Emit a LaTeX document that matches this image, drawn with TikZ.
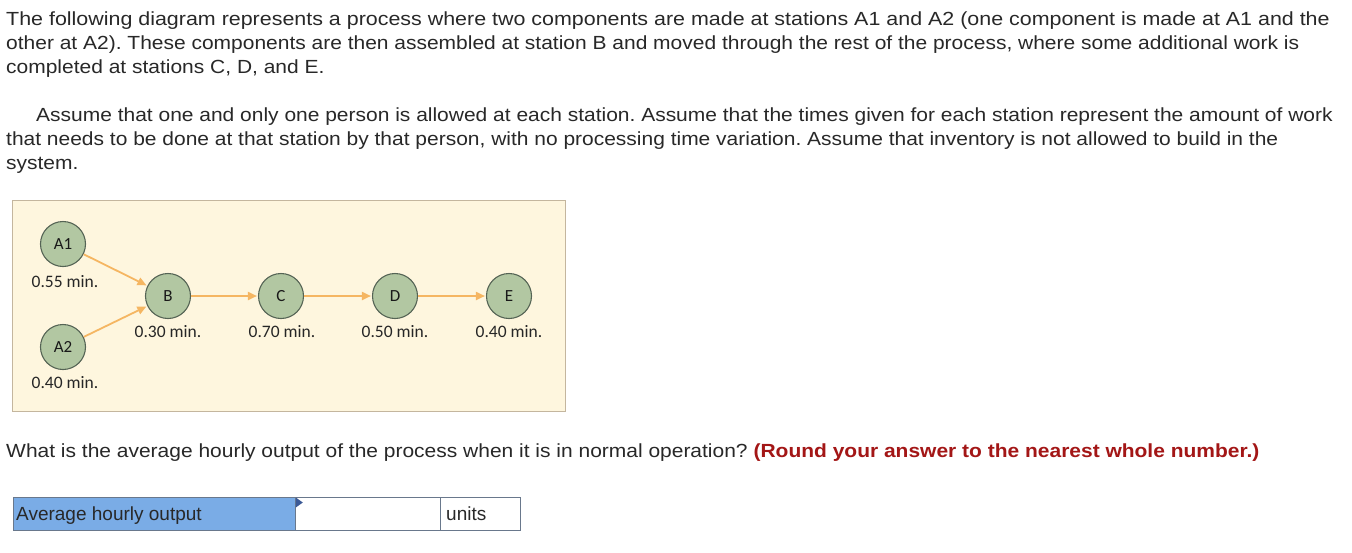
\documentclass[tikz,border=0pt]{standalone}
\usepackage{fontspec}
\setmainfont{Liberation Sans}
\newfontfamily\bodyfont{Liberation Sans}[FakeStretch=1.104]
\newfontfamily\widefont{Liberation Sans}[FakeStretch=1.128]
\newfontfamily\diagfont{Carlito}
\usetikzlibrary{arrows.meta}
\definecolor{txt}{RGB}{40,40,40}
\definecolor{boxfill}{RGB}{254,246,222}
\definecolor{boxdraw}{RGB}{196,182,158}
\definecolor{stfill}{RGB}{178,199,162}
\definecolor{stdraw}{RGB}{85,100,85}
\definecolor{flow}{RGB}{245,182,98}
\definecolor{cellblue}{RGB}{122,172,230}
\definecolor{celldraw}{RGB}{105,120,140}
\definecolor{redq}{RGB}{163,22,22}
\definecolor{tri}{RGB}{60,90,150}
\tikzset{
  para/.style={anchor=base west, inner sep=0pt, text=txt, font=\bodyfont\fontsize{19}{23}\selectfont\frenchspacing},
  cellt/.style={anchor=base west, inner sep=0pt, text=txt, font=\fontsize{19}{23}\selectfont},
  station/.style={circle, draw=stdraw, line width=1.1pt, fill=stfill, minimum size=45pt, inner sep=0pt, font=\diagfont\fontsize{17}{18}\selectfont, text=black!90},
  tlabel/.style={inner sep=0pt, anchor=base, font=\diagfont\fontsize{17.5}{19}\selectfont, text=black!85},
  flowarrow/.style={draw=flow, line width=1.8pt, -{Triangle[length=9pt,width=8pt]}, shorten >=1pt},
  cell/.style={draw=celldraw, line width=0.8pt, anchor=north west, inner sep=0pt}
}
\begin{document}
\begin{tikzpicture}[x=1pt,y=-1pt]
\useasboundingbox[fill=white] (0,0) rectangle (1352,552);
% paragraph texts
\node[para, font=\widefont\fontsize{19}{23}\selectfont\frenchspacing] (l1) at (6,25) {The following diagram represents a process where two components are made at stations A1 and A2 (one component is made at A1 and the};
\node[para] (l2) at (6,49) {other at A2). These components are then assembled at station B and moved through the rest of the process, where some additional work is};
\node[para] (l3) at (6,73) {completed at stations C, D, and E.};
\node[para] (p1) at (36,121) {Assume that one and only one person is allowed at each station. Assume that the times given for each station represent the amount of work};
\node[para] (p2) at (6,145) {that needs to be done at that station by that person, with no processing time variation. Assume that inventory is not allowed to build in the};
\node[para] (p3) at (6,169) {system.};
% diagram frame
\node[draw=boxdraw, fill=boxfill, line width=1.2pt, minimum width=553pt, minimum height=211pt, anchor=north west, inner sep=0pt] (frame) at (11.5,199.5) {};
% stations
\node[station] (A1) at (63,244) {A1};
\node[station] (A2) at (63,347) {A2};
\node[station] (B) at (168,296) {B};
\node[station] (C) at (281,296) {C};
\node[station] (D) at (395,296) {D};
\node[station] (E) at (509,296) {E};
% time labels
\node[tlabel] (tA1) at (65,287) {0.55 min.};
\node[tlabel] (tA2) at (65,388) {0.40 min.};
\node[tlabel] (tB) at (168,337) {0.30 min.};
\node[tlabel] (tC) at (282,337) {0.70 min.};
\node[tlabel] (tD) at (395,337) {0.50 min.};
\node[tlabel] (tE) at (509,337) {0.40 min.};
% flows
\draw[flowarrow] (A1) -- (B);
\draw[flowarrow] (A2) -- (B);
\draw[flowarrow] (B) -- (C);
\draw[flowarrow] (C) -- (D);
\draw[flowarrow] (D) -- (E);
% question
\node[para] (q) at (6,457) {What is the average hourly output of the process when it is in normal operation? \textcolor{redq}{\bfseries(Round your answer to the nearest whole number.)}};
% answer row
\node[cell, fill=cellblue, minimum width=282pt, minimum height=33pt] (lab) at (13,497) {};
\node[cellt] (labt) at (16,520) {Average hourly output};
\node[cell, fill=white, minimum width=145pt, minimum height=33pt] (inp) at (295,497) {};
\node[cell, fill=white, minimum width=80pt, minimum height=33pt] (un) at (440,497) {};
\node[cellt] (unt) at (446,520) {units};
\fill[tri] (inp.north west) ++(0.8,0.5) -- ++(7,5) -- ++(-7,5) -- cycle;
\end{tikzpicture}
\end{document}
